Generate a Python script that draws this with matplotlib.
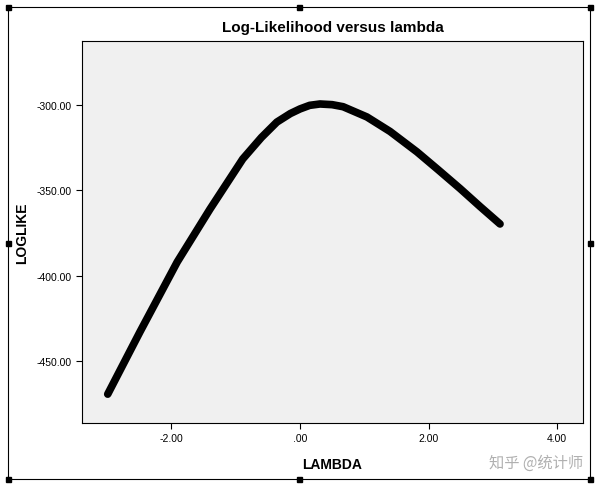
import matplotlib
matplotlib.use("Agg")
import matplotlib.pyplot as plt
from matplotlib.patches import Rectangle

plt.rcParams["font.family"] = ["Liberation Sans", "DejaVu Sans"]

# values
lam = [-2.99, -2.49, -1.91, -1.40, -0.89, -0.60, -0.36, -0.15, 0.00, 0.15, 0.31,
       0.50, 0.67, 1.04, 1.40, 1.82, 2.15, 2.49, 2.80, 3.11]
loglike = [-469.4, -433.0, -392.0, -361.0, -331.6, -319.0, -310.0, -305.0, -302.3,
           -300.2, -299.4, -299.8, -301.0, -307.0, -315.5, -327.5, -338.0, -349.0,
           -359.5, -369.7]
xticks = [-2, 0, 2, 4]
xlabels = ["-2.00", ".00", "2.00", "4.00"]
yticks = [-300, -350, -400, -450]
ylabels = ["-300.00", "-350.00", "-400.00", "-450.00"]

fig = plt.figure(figsize=(6.0, 4.89), dpi=100)
ax = fig.add_axes([82/600, 1-424/489, 501/600, 382/489])
ax.set_facecolor("#f0f0f0")
ax.plot(lam, loglike, color="black", lw=5.5, solid_capstyle="round",
        solid_joinstyle="round")
ax.set_xlim(-3.39, 4.40)
ax.set_ylim(-486.3, -262.5)
ax.set_xticks(xticks, xlabels, fontsize=7.5)
ax.set_yticks(yticks, ylabels, fontsize=7.5)
ax.tick_params(direction="out", length=4, width=0.8)
for s in ax.spines.values():
    s.set_linewidth(0.8)
ax.set_xlabel("LAMBDA", fontsize=10, fontweight="bold", labelpad=10)
ax.set_ylabel("LOGLIKE", fontsize=10, fontweight="bold")
ax.yaxis.set_label_coords(-0.105, 0.5)
ax.set_title("Log-Likelihood versus lambda", fontsize=11, fontweight="bold", pad=7)

# outer SPSS frame with handles
fig.patches.append(Rectangle((8/600, 1-480/489), 582/600, 472/489, transform=fig.transFigure,
                             fill=False, edgecolor="black", lw=0.8))
for hx in (8, 299, 590):
    for hy in (8, 244, 480):
        if hx == 299 and hy == 244:
            continue
        fig.patches.append(Rectangle(((hx-2.5)/600, 1-(hy+2.5)/489), 5/600, 5/489,
                                     transform=fig.transFigure, color="black"))

fig.text(583/600, 1-463/489, "知乎 @统计师", ha="right", va="center", fontsize=11,
         color="#b0b0b0", family=["Noto Sans CJK SC", "DejaVu Sans"])
fig.savefig("out.png", dpi=100)
